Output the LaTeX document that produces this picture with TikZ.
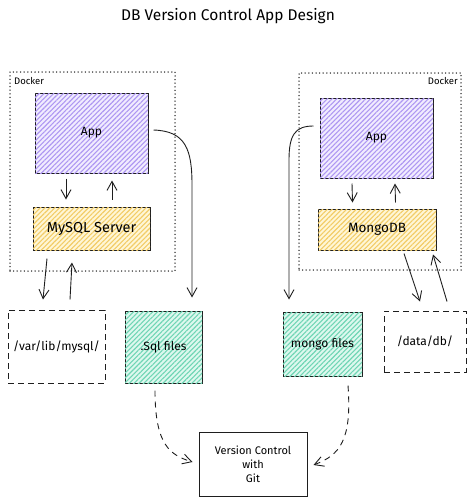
\documentclass[tikz,border=0pt]{standalone}
\usepackage{fontspec}
\setmainfont{Fira Sans}
\usetikzlibrary{patterns.meta,arrows.meta}

\definecolor{appfill}{HTML}{F1ECFF}
\definecolor{appline}{HTML}{AE97F2}
\definecolor{dbfill}{HTML}{FFF6D6}
\definecolor{dbline}{HTML}{F2CC66}
\definecolor{filefill}{HTML}{DDF8EE}
\definecolor{fileline}{HTML}{6FD5B4}
\definecolor{ink}{HTML}{1E1E1E}

\tikzset{
  hatch/.style={postaction={pattern={Lines[angle=45,distance=3.4pt,line width=1.1pt]}, pattern color=#1}},
  box/.style={draw=ink, line width=1pt, inner sep=0pt, align=center,
    font=\fontsize{12}{15}\selectfont},
  appbox/.style={box, fill=appfill, hatch=appline},
  dbbox/.style={box, fill=dbfill, hatch=dbline},
  filebox/.style={box, fill=filefill, hatch=fileline},
  dirbox/.style={box, dash pattern=on 6pt off 4pt},
  docker/.style={draw=ink, line width=1.5pt, line cap=round,
    dash pattern=on 0pt off 3.6pt, inner sep=0pt},
  dockerlabel/.style={inner sep=0pt, font=\fontsize{9.5}{11}\selectfont},
  arr/.style={draw=ink, line width=0.9pt, -{Straight Barb[length=9pt,width=10pt]}},
}

\begin{document}
\begin{tikzpicture}[x=1pt,y=-1pt]

\useasboundingbox (0,0) rectangle (474,503);

\node (title) at (228,16) {\fontsize{15.5}{18}\selectfont DB Version Control App Design};

% left container
\node [docker, minimum width=165pt, minimum height=199pt] (dockerL) at (92.5,171.5) {};
\node [dockerlabel, anchor=west] (dockerLtext) at (14,81) {Docker};

\node [appbox, minimum width=113pt, minimum height=80pt] (appL) at (91.5,133) {App};
\node [dbbox, minimum width=117pt, minimum height=43pt, font=\fontsize{14.5}{16}\selectfont] (mysql) at (91.5,228.5) {MySQL Server};

\draw [arr] ([xshift=-25.5pt,yshift=-5pt]appL.south) -- ([xshift=-25.5pt,yshift=7pt]mysql.north);
\draw [arr] ([xshift=20.5pt,yshift=7pt]mysql.north) -- ([xshift=20.5pt,yshift=-7pt]appL.south);

% right container
\node [docker, minimum width=162pt, minimum height=197pt] (dockerR) at (380,171.5) {};
\node [dockerlabel, anchor=east] (dockerRtext) at (458,81) {Docker};

\node [appbox, minimum width=113pt, minimum height=80pt] (appR) at (376.5,138) {App};
\node [dbbox, minimum width=118pt, minimum height=41pt, font=\fontsize{13.5}{15}\selectfont] (mongo) at (377,229.5) {MongoDB};

\draw [arr] ([xshift=-24.5pt,yshift=-5pt]appR.south) -- ([xshift=-24.5pt,yshift=6pt]mongo.north);
\draw [arr] ([xshift=18.5pt,yshift=6pt]mongo.north) -- ([xshift=18.5pt,yshift=-5pt]appR.south);

% volumes and dumps
\node [dirbox, minimum width=97pt, minimum height=73pt] (varlib) at (56.5,346.5) {/var/lib/mysql/};
\node [filebox, minimum width=77pt, minimum height=72pt] (sqlfiles) at (163.5,347) {.Sql files};
\node [filebox, minimum width=79pt, minimum height=64pt] (mongofiles) at (322.5,344) {mongo files};
\node [dirbox, minimum width=82pt, minimum height=61pt] (datadb) at (425,341.5) {/data/db/};

\draw [arr] ([xshift=-44.5pt,yshift=-8pt]mysql.south) -- ([xshift=-13.5pt,yshift=10pt]varlib.north);
\draw [arr] ([xshift=13.5pt,yshift=10pt]varlib.north) -- ([xshift=-19.5pt,yshift=-12pt]mysql.south);

\draw [arr] ([xshift=27pt,yshift=-3pt]mongo.south) -- ([xshift=-5pt,yshift=9pt]datadb.north);
\draw [arr] ([xshift=22pt,yshift=9pt]datadb.north) -- ([xshift=56pt,yshift=-4pt]mongo.south);

% dumps out of the apps
\draw [arr] ([xshift=5pt,yshift=3pt]appL.east) .. controls (186,131) and (192,150) .. (192,185)
  -- ([xshift=28.5pt,yshift=13pt]sqlfiles.north);
\draw [arr] ([xshift=-6pt,yshift=12pt]appR.west) .. controls (295,126) and (289,135) .. (289,160)
  -- ([xshift=-33.5pt,yshift=12pt]mongofiles.north);

% git
\node [box, minimum width=108pt, minimum height=64pt, font=\fontsize{11}{14}\selectfont] (git) at (253,464) {Version Control\\with\\Git};

\draw [arr, dash pattern=on 6pt off 5pt] ([xshift=-8.5pt,yshift=-7pt]sqlfiles.south) .. controls (155,445) and (170,455) .. ([xshift=-6pt,yshift=2pt]git.west);
\draw [arr, dash pattern=on 6pt off 5pt] ([xshift=25.5pt,yshift=-9pt]mongofiles.south) .. controls (352,440) and (340,455) .. ([xshift=6pt,yshift=-1pt]git.east);

\end{tikzpicture}
\end{document}
